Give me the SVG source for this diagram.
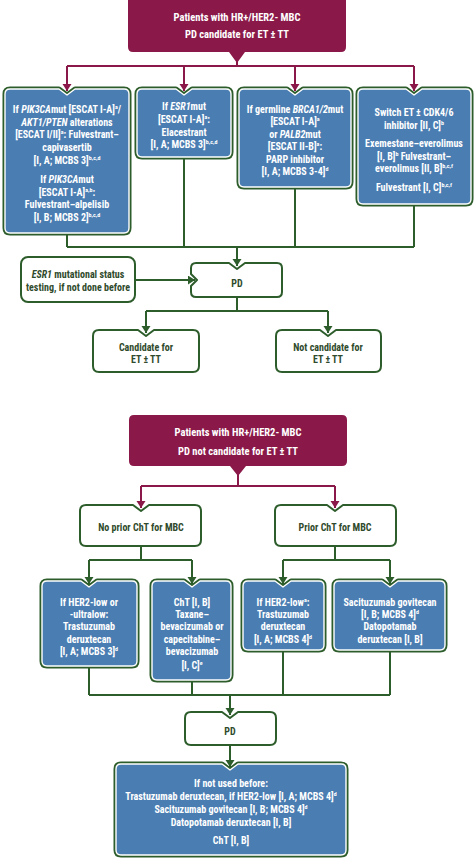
<svg xmlns="http://www.w3.org/2000/svg" xmlns:xlink="http://www.w3.org/1999/xlink" width="474" height="859" viewBox="0 0 474 859">
<style>
text{font-family:"Liberation Sans Narrow","Roboto Condensed","Liberation Sans",sans-serif;font-weight:bold;text-anchor:middle}
.hd{fill:#8a1848}
.ht{fill:#fff;font-size:10.5px}
.bo{fill:none;stroke:#2e5d2c;stroke-width:5;stroke-linejoin:round}
.bi{fill:#4a7db2;stroke:#fff;stroke-width:1.4;stroke-linejoin:round}
.bt{fill:#fff;font-size:10px}
.wb{fill:#fff;stroke:#2e5d2c;stroke-width:2;stroke-linejoin:round}
.gt{fill:#2f4a2c;font-size:10px}
.i{font-style:italic}
.s{font-size:6px}
.cm{fill:none;stroke:#8a1848;stroke-width:2}
.cg{fill:none;stroke:#2e5d2c;stroke-width:2}
.am{marker-end:url(#amr)}
.ag{marker-end:url(#agr)}
</style>
<defs>
<marker id="amr" markerUnits="userSpaceOnUse" markerWidth="10" markerHeight="10" refX="7" refY="4.5" orient="auto"><path d="M0,0 L7,4.5 L0,9 Z" fill="#8a1848"/></marker>
<marker id="agr" markerUnits="userSpaceOnUse" markerWidth="10" markerHeight="10" refX="7" refY="4.5" orient="auto"><path d="M0,0 L7,4.5 L0,9 Z" fill="#2e5d2c"/></marker>
<path id="pb1" d="M10,89 H59 L67,95 L75,89 H124 Q129,89 129,94 V228 Q129,233 124,233 H10 Q5,233 5,228 V94 Q5,89 10,89 Z"/>
<path id="pb2" d="M142,89 H176 L184,95 L192,89 H226 Q231,89 231,94 V152 Q231,157 226,157 H142 Q137,157 137,152 V94 Q137,89 142,89 Z"/>
<path id="pb3" d="M244,89 H287 L295,95 L303,89 H346 Q351,89 351,94 V182 Q351,187 346,187 H244 Q239,187 239,182 V94 Q239,89 244,89 Z"/>
<path id="pb4" d="M363,89 H406 L414,95 L422,89 H466 Q471,89 471,94 V199 Q471,204 466,204 H363 Q358,204 358,199 V94 Q358,89 363,89 Z"/>
<path id="pba" d="M47,581 H81 L89,587 L97,581 H132 Q137,581 137,586 V661 Q137,666 132,666 H47 Q42,666 42,661 V586 Q42,581 47,581 Z"/>
<path id="pbb" d="M157,581 H184 L192,587 L200,581 H226 Q231,581 231,586 V675 Q231,680 226,680 H157 Q152,680 152,675 V586 Q152,581 157,581 Z"/>
<path id="pbc" d="M248,581 H275 L283,587 L291,581 H319 Q324,581 324,586 V645 Q324,650 319,650 H248 Q243,650 243,645 V586 Q243,581 248,581 Z"/>
<path id="pbd" d="M339,581 H382 L390,587 L398,581 H440 Q445,581 445,586 V645 Q445,650 440,650 H339 Q334,650 334,645 V586 Q334,581 339,581 Z"/>
<path id="pbe" d="M121,764 H222 L230,770 L238,764 H341 Q346,764 346,769 V850 Q346,855 341,855 H121 Q116,855 116,850 V769 Q116,764 121,764 Z"/>
</defs>

<g id="connectors">
<path class="cm" d="M237,60 V66 M67,66 H414"/>
<path class="cm am" d="M67,66 V91"/>
<path class="cm am" d="M184,66 V91"/>
<path class="cm am" d="M295,66 V91"/>
<path class="cm am" d="M414,66 V91"/>
<path class="cg" d="M67,233 V247 M184,157 V247 M295,187 V247 M414,204 V247 M67,247 H414"/>
<path class="cg ag" d="M237,247 V266"/>
<path class="cg ag" d="M135,280 H195"/>
<path class="cg" d="M237,297 V311 M146,311 H328"/>
<path class="cg ag" d="M146,311 V333"/>
<path class="cg ag" d="M328,311 V333"/>
<path class="cm" d="M238,472 V486 M141,486 H335"/>
<path class="cm am" d="M141,486 V508"/>
<path class="cm am" d="M335,486 V508"/>
<path class="cg" d="M141,546 V560 M89,560 H192 M335,546 V560 M283,560 H390"/>
<path class="cg ag" d="M89,560 V584"/>
<path class="cg ag" d="M192,560 V584"/>
<path class="cg ag" d="M283,560 V584"/>
<path class="cg ag" d="M390,560 V584"/>
<path class="cg" d="M89,666 V695 M192,680 V695 M283,650 V695 M390,650 V695 M89,695 H390"/>
<path class="cg ag" d="M230,695 V715"/>
<path class="cg ag" d="M230,745 V767"/>
</g>

<g id="header1">
<path class="hd" d="M128,-4 H346 V47 Q346,52 341,52 H245 L237,63 L229,52 H133 Q128,52 128,47 Z"/>
<text class="ht" x="237" y="21">Patients with HR+/HER2- MBC</text>
<text class="ht" x="237" y="38">PD candidate for ET ± TT</text>
</g>

<g id="box-pik3ca">
<use xlink:href="#pb1" class="bo"/><use xlink:href="#pb1" class="bi"/>
<text class="bt" x="67" y="113">If <tspan class="i">PIK3CA</tspan>mut [ESCAT I-A]<tspan class="s" dy="-4">a</tspan><tspan dy="4">/</tspan></text>
<text class="bt" x="67" y="125.5"><tspan class="i">AKT1/PTEN</tspan> alterations</text>
<text class="bt" x="67" y="138">[ESCAT I/II]<tspan class="s" dy="-4">a</tspan><tspan dy="4">: Fulvestrant–</tspan></text>
<text class="bt" x="67" y="150.5">capivasertib</text>
<text class="bt" x="67" y="163.5">[I, A; MCBS 3]<tspan class="s" dy="-4">b,c,d</tspan></text>
<text class="bt" x="67" y="182.5">If <tspan class="i">PIK3CA</tspan>mut</text>
<text class="bt" x="67" y="195.5">[ESCAT I-A]<tspan class="s" dy="-4">a,b</tspan><tspan dy="4">:</tspan></text>
<text class="bt" x="67" y="208">Fulvestrant–alpelisib</text>
<text class="bt" x="67" y="220.5">[I, B; MCBS 2]<tspan class="s" dy="-4">b,c,d</tspan></text>
</g>

<g id="box-esr1">
<use xlink:href="#pb2" class="bo"/><use xlink:href="#pb2" class="bi"/>
<text class="bt" x="184" y="109.5">If <tspan class="i">ESR1</tspan>mut</text>
<text class="bt" x="184" y="122.5">[ESCAT I-A]<tspan class="s" dy="-4">a</tspan><tspan dy="4">:</tspan></text>
<text class="bt" x="184" y="135.5">Elacestrant</text>
<text class="bt" x="184" y="147.5">[I, A; MCBS 3]<tspan class="s" dy="-4">b,c,d</tspan></text>
</g>

<g id="box-brca">
<use xlink:href="#pb3" class="bo"/><use xlink:href="#pb3" class="bi"/>
<text class="bt" x="295" y="112.5">If germline <tspan class="i">BRCA1/2</tspan>mut</text>
<text class="bt" x="295" y="125">[ESCAT I-A]<tspan class="s" dy="-4">a</tspan></text>
<text class="bt" x="295" y="137.5">or <tspan class="i">PALB2</tspan>mut</text>
<text class="bt" x="295" y="150">[ESCAT II-B]<tspan class="s" dy="-4">a</tspan><tspan dy="4">:</tspan></text>
<text class="bt" x="295" y="162.5">PARP inhibitor</text>
<text class="bt" x="295" y="175">[I, A; MCBS 3-4]<tspan class="s" dy="-4">d</tspan></text>
</g>

<g id="box-switch">
<use xlink:href="#pb4" class="bo"/><use xlink:href="#pb4" class="bi"/>
<text class="bt" x="414" y="115.5">Switch ET ± CDK4/6</text>
<text class="bt" x="414" y="128.5">inhibitor [II, C]<tspan class="s" dy="-4">b</tspan></text>
<text class="bt" x="414" y="146.5">Exemestane–everolimus</text>
<text class="bt" x="414" y="159.5">[I, B]<tspan class="s" dy="-4">b</tspan><tspan dy="4"> Fulvestrant–</tspan></text>
<text class="bt" x="414" y="171.5">everolimus [II, B]<tspan class="s" dy="-4">b,c,f</tspan></text>
<text class="bt" x="414" y="190.5">Fulvestrant [I, C]<tspan class="s" dy="-4">b,c,f</tspan></text>
</g>

<g id="box-esr1-testing">
<rect class="wb" x="21" y="257" width="114" height="45" rx="7"/>
<text class="gt" x="78" y="277.5"><tspan class="i">ESR1</tspan> mutational status</text>
<text class="gt" x="78" y="290.5">testing, if not done before</text>
</g>

<g id="pd1">
<path class="wb" d="M196,263 H229 L237,269 L245,263 H277 Q282,263 282,268 V292 Q282,297 277,297 H196 Q191,297 191,292 V286 L197,280 L191,274 V268 Q191,263 196,263 Z"/>
<text class="gt" x="237" y="286.5">PD</text>
</g>

<g id="candidate">
<path class="wb" d="M99,330 H138 L146,336 L154,330 H193 Q199,330 199,336 V366 Q199,372 193,372 H99 Q93,372 93,366 V336 Q93,330 99,330 Z"/>
<text class="gt" x="146" y="350.5">Candidate for</text>
<text class="gt" x="146" y="362.5">ET ± TT</text>
</g>

<g id="not-candidate">
<path class="wb" d="M282,330 H320 L328,336 L336,330 H375 Q381,330 381,336 V366 Q381,372 375,372 H282 Q276,372 276,366 V336 Q276,330 282,330 Z"/>
<text class="gt" x="328" y="350.5">Not candidate for</text>
<text class="gt" x="328" y="362.5">ET ± TT</text>
</g>

<g id="header2">
<path class="hd" d="M134,415 H342 Q347,415 347,420 V461 Q347,466 342,466 H246 L238,476 L230,466 H134 Q129,466 129,461 V420 Q129,415 134,415 Z"/>
<text class="ht" x="238" y="436">Patients with HR+/HER2- MBC</text>
<text class="ht" x="238" y="455">PD not candidate for ET ± TT</text>
</g>

<g id="no-prior">
<path class="wb" d="M86,505 H133 L141,511 L149,505 H195 Q201,505 201,511 V540 Q201,546 195,546 H86 Q80,546 80,540 V511 Q80,505 86,505 Z"/>
<text class="gt" x="141" y="530.5">No prior ChT for MBC</text>
</g>

<g id="prior">
<path class="wb" d="M281,505 H327 L335,511 L343,505 H390 Q396,505 396,511 V540 Q396,546 390,546 H281 Q275,546 275,540 V511 Q275,505 281,505 Z"/>
<text class="gt" x="335" y="530.5">Prior ChT for MBC</text>
</g>

<g id="box-her2-ultralow">
<use xlink:href="#pba" class="bo"/><use xlink:href="#pba" class="bi"/>
<text class="bt" x="89" y="605.5">If HER2-low or</text>
<text class="bt" x="89" y="617.5">-ultralow:</text>
<text class="bt" x="89" y="630">Trastuzumab</text>
<text class="bt" x="89" y="642.5">deruxtecan</text>
<text class="bt" x="89" y="655">[I, A; MCBS 3]<tspan class="s" dy="-4">d</tspan></text>
</g>

<g id="box-cht">
<use xlink:href="#pbb" class="bo"/><use xlink:href="#pbb" class="bi"/>
<text class="bt" x="192" y="605.5">ChT [I, B]</text>
<text class="bt" x="192" y="617.5">Taxane–</text>
<text class="bt" x="192" y="630">bevacizumab or</text>
<text class="bt" x="192" y="642.5">capecitabine–</text>
<text class="bt" x="192" y="655">bevacizumab</text>
<text class="bt" x="192" y="669">[I, C]<tspan class="s" dy="-4">e</tspan></text>
</g>

<g id="box-her2-low">
<use xlink:href="#pbc" class="bo"/><use xlink:href="#pbc" class="bi"/>
<text class="bt" x="283" y="605.5">If HER2-low<tspan class="s" dy="-4">a</tspan><tspan dy="4">:</tspan></text>
<text class="bt" x="283" y="617.5">Trastuzumab</text>
<text class="bt" x="283" y="630">deruxtecan</text>
<text class="bt" x="283" y="642.5">[I, A; MCBS 4]<tspan class="s" dy="-4">d</tspan></text>
</g>

<g id="box-sacituzumab">
<use xlink:href="#pbd" class="bo"/><use xlink:href="#pbd" class="bi"/>
<text class="bt" x="390" y="605.5">Sacituzumab govitecan</text>
<text class="bt" x="390" y="617.5">[I, B; MCBS 4]<tspan class="s" dy="-4">d</tspan></text>
<text class="bt" x="390" y="630">Datopotamab</text>
<text class="bt" x="390" y="642.5">deruxtecan [I, B]</text>
</g>

<g id="pd2">
<path class="wb" d="M191,712 H222 L230,718 L238,712 H270 Q276,712 276,718 V739 Q276,745 270,745 H191 Q185,745 185,739 V718 Q185,712 191,712 Z"/>
<text class="gt" x="230" y="734.5">PD</text>
</g>

<g id="box-final">
<use xlink:href="#pbe" class="bo"/><use xlink:href="#pbe" class="bi"/>
<text class="bt" x="231" y="786.5">If not used before:</text>
<text class="bt" x="231" y="799.5">Trastuzumab deruxtecan, if HER2-low [I, A; MCBS 4]<tspan class="s" dy="-4">d</tspan></text>
<text class="bt" x="231" y="812.5">Sacituzumab govitecan [I, B; MCBS 4]<tspan class="s" dy="-4">d</tspan></text>
<text class="bt" x="231" y="825.5">Datopotamab deruxtecan [I, B]</text>
<text class="bt" x="231" y="843.5">ChT [I, B]</text>
</g>
</svg>
